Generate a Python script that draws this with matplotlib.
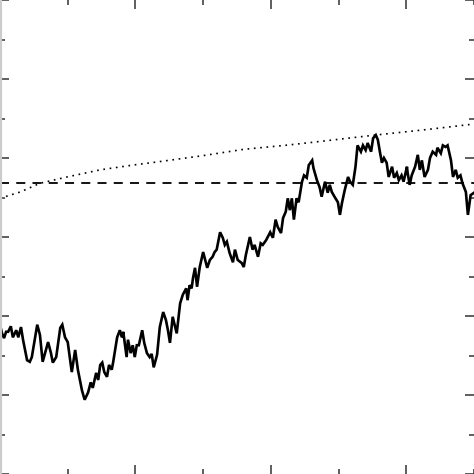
import matplotlib
matplotlib.use('Agg')
import matplotlib.pyplot as plt
from matplotlib.ticker import MultipleLocator
import numpy as np

# sample path (time, value)
t_path = [0.00, 0.03, 0.06, 0.09, 0.12, 0.16, 0.19, 0.24, 0.27, 0.31, 0.34, 0.40, 0.44, 0.47,
          0.55, 0.59, 0.63, 0.71, 0.75, 0.78, 0.83, 0.89, 0.92, 0.96, 1.00, 1.06, 1.11, 1.15,
          1.21, 1.25, 1.30, 1.34, 1.37, 1.42, 1.45, 1.48, 1.51, 1.54, 1.58, 1.61, 1.65, 1.67,
          1.73, 1.77, 1.80, 1.82, 1.87, 1.89, 1.93, 1.96, 1.99, 2.02, 2.05, 2.10, 2.13, 2.17,
          2.21, 2.24, 2.27, 2.32, 2.36, 2.41, 2.45, 2.48, 2.51, 2.55, 2.61, 2.66, 2.70, 2.75,
          2.77, 2.80, 2.83, 2.85, 2.88, 2.91, 2.95, 3.00, 3.03, 3.06, 3.10, 3.14, 3.17, 3.20,
          3.25, 3.29, 3.32, 3.35, 3.39, 3.44, 3.47, 3.51, 3.57, 3.60, 3.63, 3.69, 3.73, 3.76,
          3.81, 3.85, 3.88, 3.93, 3.99, 4.03, 4.07, 4.10, 4.15, 4.18, 4.22, 4.25, 4.28, 4.31,
          4.34, 4.38, 4.41, 4.46, 4.49, 4.53, 4.56, 4.61, 4.63, 4.68, 4.72, 4.75, 4.80, 4.84,
          4.87, 4.90, 4.94, 4.99, 5.02, 5.05, 5.09, 5.14, 5.17, 5.21, 5.25, 5.28, 5.33, 5.36,
          5.40, 5.43, 5.48, 5.51, 5.55, 5.58, 5.61, 5.64, 5.67, 5.71, 5.74, 5.79, 5.82, 5.86,
          5.89, 5.93, 5.96, 6.01, 6.02, 6.05, 6.08, 6.13, 6.17, 6.20, 6.23, 6.27, 6.32, 6.35,
          6.39, 6.44, 6.46, 6.51, 6.54, 6.58, 6.61, 6.66, 6.69, 6.73, 6.76, 6.80, 6.83, 6.88,
          6.91, 6.95, 7.00]
y_path = [-1.11, -1.22, -1.28, -1.20, -1.20, -1.13, -1.27, -1.18, -1.27, -1.14, -1.30, -1.56, -1.58, -1.52,
          -1.11, -1.24, -1.58, -1.33, -1.46, -1.59, -1.52, -1.15, -1.11, -1.27, -1.33, -1.71, -1.43, -1.68,
          -1.94, -2.06, -1.97, -1.84, -1.91, -1.72, -1.81, -1.62, -1.59, -1.71, -1.77, -1.62, -1.68, -1.59,
          -1.27, -1.18, -1.27, -1.20, -1.52, -1.30, -1.47, -1.37, -1.52, -1.37, -1.37, -1.18, -1.34, -1.47,
          -1.52, -1.48, -1.65, -1.49, -1.14, -0.95, -1.05, -1.18, -1.34, -1.01, -1.22, -0.84, -0.73, -0.65,
          -0.80, -0.61, -0.65, -0.52, -0.39, -0.63, -0.38, -0.19, -0.29, -0.39, -0.29, -0.25, -0.19, -0.16,
          0.06, -0.01, -0.10, -0.06, -0.20, -0.32, -0.16, -0.29, -0.33, -0.38, -0.23, 0.00, -0.16, -0.10,
          -0.25, -0.08, -0.10, -0.04, 0.06, -0.01, 0.22, 0.13, 0.05, 0.24, 0.32, 0.49, 0.34, 0.49,
          0.22, 0.49, 0.44, 0.70, 0.78, 0.75, 0.91, 0.97, 0.87, 0.72, 0.63, 0.51, 0.70, 0.56,
          0.66, 0.57, 0.51, 0.44, 0.28, 0.43, 0.59, 0.76, 0.70, 0.66, 0.89, 1.16, 1.08, 1.16,
          1.10, 1.19, 1.08, 1.25, 1.29, 1.23, 1.08, 0.94, 1.00, 0.94, 0.76, 0.89, 0.75, 0.81,
          0.72, 0.78, 0.70, 0.89, 0.81, 0.66, 0.78, 0.89, 1.04, 0.85, 0.97, 0.76, 0.85, 1.00,
          1.08, 1.04, 1.13, 1.06, 1.16, 1.14, 1.16, 0.97, 0.76, 0.85, 0.75, 0.78, 0.68, 0.57,
          0.28, 0.53, 0.56]

# constant level (dashed) and growing boundary (dotted)
level = 0.68
t_bound = [0.00, 0.30, 0.59, 0.99, 1.48, 1.96, 2.32, 3.00, 3.60, 4.21, 4.63, 5.54, 6.30, 7.00]
y_bound = [0.49, 0.57, 0.68, 0.76, 0.85, 0.91, 0.95, 1.03, 1.11, 1.16, 1.20, 1.29, 1.36, 1.43]

fig = plt.figure(figsize=(4.74, 4.74), dpi=100)
ax = fig.add_axes([0, 0, 1, 1])

ax.plot(t_path, y_path, color='black', lw=1.9, solid_joinstyle='miter')
ax.axhline(level, color='black', lw=1.3, linestyle=(0, (5, 4)))
ax.plot(t_bound, y_bound, color='black', lw=1.2, linestyle=(0, (1, 2.8)))

ax.set_xlim(0, 7)
ax.set_ylim(-3, 3)

ax.xaxis.set_major_locator(MultipleLocator(2))
ax.xaxis.set_minor_locator(MultipleLocator(1))
ax.yaxis.set_major_locator(MultipleLocator(1))
ax.yaxis.set_minor_locator(MultipleLocator(0.5))

ax.tick_params(which='both', direction='in', top=True, right=True, bottom=True, left=True,
               labelleft=False, labelbottom=False, color='#333333', width=1.1)
ax.tick_params(which='major', length=6.5)
ax.tick_params(which='minor', length=3.6)

for side in ['top', 'bottom', 'right']:
    ax.spines[side].set_visible(False)
ax.spines['left'].set_color('#cccccc')
ax.spines['left'].set_linewidth(3)

fig.savefig('out.png', dpi=100)
